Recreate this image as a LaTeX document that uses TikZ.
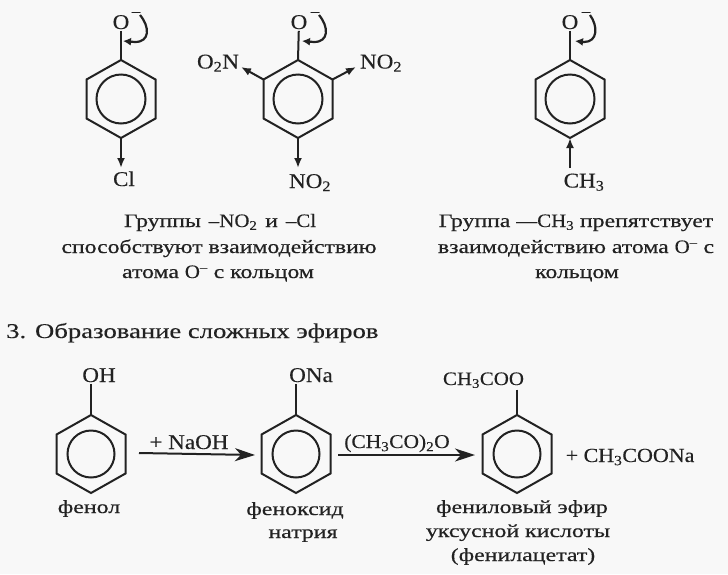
\documentclass[tikz,border=0pt]{standalone}
\usepackage{fontspec}
\setmainfont[FakeStretch=1.1,FakeBold=0.25]{Liberation Serif}
\newfontfamily\capfont[FakeStretch=1.25,FakeBold=0.5]{Liberation Serif}
\newfontfamily\labfont[FakeStretch=1.29,FakeBold=0.5]{Liberation Serif}
\newfontfamily\headfont[FakeStretch=1.27,FakeBold=0.25]{Liberation Serif}
\usetikzlibrary{arrows.meta,calc}
\definecolor{ink}{HTML}{222222}
\definecolor{paper}{HTML}{F8F8F8}
\tikzset{
  bond/.style={draw=ink,line width=2pt},
  pol/.style={bond,-{Latex[length=10pt,width=8pt]}},
  react/.style={bond,-{Stealth[length=20pt,width=13pt,inset=6pt]}},
  curv/.style={bond,line width=2.2pt,-{Latex[length=8pt,width=8pt]}},
  txt/.style={text=ink,font=\fontsize{19}{22}\capfont,inner sep=1pt,anchor=base},
  lab/.style={text=ink,font=\fontsize{18.5}{22}\labfont,inner sep=1pt,anchor=base},
  atom/.style={text=ink,font=\fontsize{21}{22}\selectfont,inner sep=1.5pt,anchor=base},
}
\newcommand{\benz}[4]{% name, x, y, inner radius
  \coordinate (#1-t) at (#2,#3-39);
  \coordinate (#1-ur) at (#2+34.5,#3-19.5);
  \coordinate (#1-lr) at (#2+34.5,#3+19.5);
  \coordinate (#1-b) at (#2,#3+39);
  \coordinate (#1-ll) at (#2-34.5,#3+19.5);
  \coordinate (#1-ul) at (#2-34.5,#3-19.5);
  \draw[bond,line join=miter] (#1-t)--(#1-ur)--(#1-lr)--(#1-b)--(#1-ll)--(#1-ul)--cycle;
  \draw[bond] (#2,#3) circle[radius=#4];
}
\newcommand{\sbs}[1]{\textsubscript{#1}}
\newcommand{\spm}{\textsuperscript{–}}
\begin{document}
\begin{tikzpicture}[x=1pt,y=-1pt]
\useasboundingbox[fill=paper] (0,0) rectangle (728,574);
% top rings
\benz{a}{121}{99}{24.5}
\benz{b}{298}{99}{24.5}
\benz{c}{570}{99}{24.5}
% ring a
\node[atom] (oa) at (121,29) {O};
\node[atom] (ma) at (136,16) {\fontsize{15}{15}\selectfont –};
\node[atom] (cl) at (124,186) {Cl};
\draw[bond] (oa) -- (a-t);
\coordinate (as) at (140,15);
\coordinate (aj) at (123,41);
\coordinate (at) at (121,168);
\draw[curv] (as) .. controls (150,27) and (150,42) .. (135,42) -- (aj);
\draw[pol] (a-b) -- (at);
% ring b
\node[atom] (ob) at (299,29) {O};
\node[atom] (mb) at (315,16) {\fontsize{15}{15}\selectfont –};
\node[atom] (nl) at (218,68.5) {O\sbs{2}N};
\node[atom] (nr) at (381,68.5) {NO\sbs{2}};
\node[atom] (nb) at (310,188) {NO\sbs{2}};
\draw[bond] (ob) -- (b-t);
\coordinate (bs) at (319,15);
\coordinate (bj) at (302,41);
\coordinate (bl) at (241,67);
\coordinate (br) at (356,67);
\coordinate (bt) at (298,168);
\draw[curv] (bs) .. controls (329,27) and (329,42) .. (314,42) -- (bj);
\draw[pol] (b-ul) -- (bl);
\draw[pol] (b-ur) -- (br);
\draw[pol] (b-b) -- (bt);
% ring c
\node[atom] (oc) at (570,29) {O};
\node[atom] (mc) at (586,16) {\fontsize{15}{15}\selectfont –};
\node[atom] (ch) at (584,187.5) {CH\sbs{3}};
\draw[bond] (oc) -- (c-t);
\coordinate (cs) at (590,15);
\coordinate (cj) at (575,41);
\coordinate (ct) at (570,168);
\draw[curv] (cs) .. controls (598,26) and (598,42) .. (584,42) -- (cj);
\draw[pol] (ct) -- (c-b);
% captions
\node[txt] (g1) at (220,227) {Группы\hspace{2pt} {\rmfamily –NO\sbs{2}}\hspace{2pt} и\hspace{2pt} {\rmfamily –Cl}};
\node[txt] (g2) at (219,253) {способствуют взаимодействию};
\node[txt] (g3) at (218,278) {атома {\rmfamily O\spm{}} с кольцом};
\node[txt] (h1) at (576,227) {Группа {\rmfamily —CH\sbs{3}} препятствует};
\node[txt] (h2) at (576,253) {взаимодействию атома {\rmfamily O\spm{}} с};
\node[txt] (h3) at (577,278) {кольцом};
\node[txt,anchor=base west,font=\fontsize{21}{24}\headfont] (tt) at (5,338) {3. Образование сложных эфиров};
% bottom rings
\benz{d}{91}{454}{23.5}
\benz{e}{296}{454}{23.5}
\benz{f}{517}{454}{23.5}
\node[atom] (oh) at (99,382) {OH};
\node[atom] (ona) at (311,382) {ONa};
\node[atom,font=\fontsize{19}{22}\selectfont] (acet) at (483.5,385) {CH\sbs{3}COO};
\draw[bond] (oh.south -| d-t) -- (d-t);
\draw[bond] (ona.south -| e-t) -- (e-t);
\draw[bond] (acet.south -| f-t) -- (f-t);
\coordinate (r1a) at (139,453);
\coordinate (r1b) at (255,455);
\coordinate (r2a) at (338,455);
\coordinate (r2b) at (475,455);
\draw[react] (r1a) -- (r1b);
\draw[react] (r2a) -- (r2b);
\node[atom] (naoh) at (189,449) {+ NaOH};
\node[atom,font=\fontsize{19.5}{22}\selectfont] (anh) at (397,448) {(CH\sbs{3}CO)\sbs{2}O};
\node[atom,anchor=base west,font=\fontsize{20}{22}\selectfont] (plus) at (564,462) {+ CH\sbs{3}COONa};
\node[lab] (n1) at (89,513) {фенол};
\node[lab] (n2) at (295,515) {феноксид};
\node[lab] (n3) at (303,538) {натрия};
\node[lab] (n4) at (522,513) {фениловый эфир};
\node[lab] (n5) at (518,537) {уксусной кислоты};
\node[lab] (n6) at (523,561) {(фенилацетат)};
\end{tikzpicture}
\end{document}
